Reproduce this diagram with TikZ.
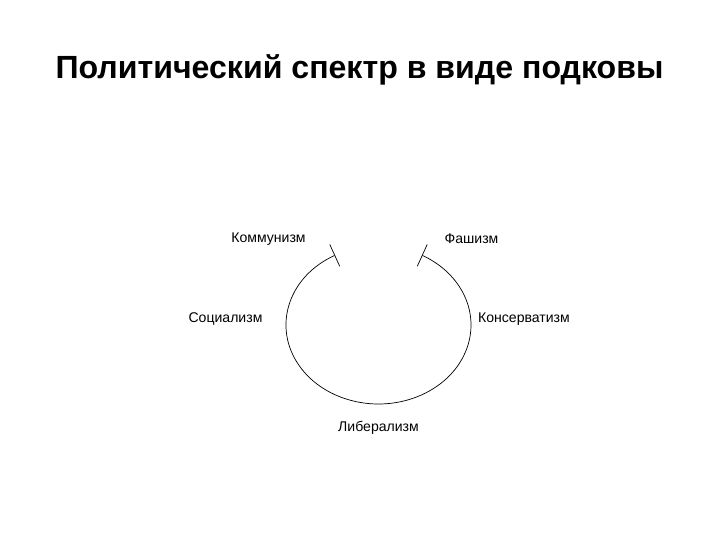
\documentclass[tikz,border=0pt]{standalone}
\usepackage{fontspec}
\setmainfont{Liberation Sans}
\usetikzlibrary{arrows.meta, calc}

\begin{document}
\begin{tikzpicture}[x=0.03cm, y=0.03cm,
		label/.style = {font=\fontsize{12}{14}\selectfont},
		heading/.style = {font=\fontsize{27.4}{32}\selectfont\bfseries}]
			\def\rx{92.5};
			\def\ry{79};

			\useasboundingbox (0,0) rectangle (720,540);

			\node[heading] (title) at (359.5,470) {Политический спектр в виде подковы};

			\coordinate (centre) at (378.5,215);

			\draw[line width = 0.6pt, {Bar[width=24*0.03cm]}-{Bar[width=24*0.03cm]}]
				($(centre) + (118:{\rx} and {\ry})$) arc [start angle = 118, end angle = 422, x radius = \rx, y radius = \ry];

			\node[label] (kommunizm) at (268.5,301) {Коммунизм};
			\node[label] (fashizm) at (471.5,301) {Фашизм};
			\node[label] (socializm) at (225.5,221) {Социализм};
			\node[label] (konservatizm) at (524,221) {Консерватизм};
			\node[label] (liberalizm) at (378.5,112) {Либерализм};
		\end{tikzpicture}
\end{document}
